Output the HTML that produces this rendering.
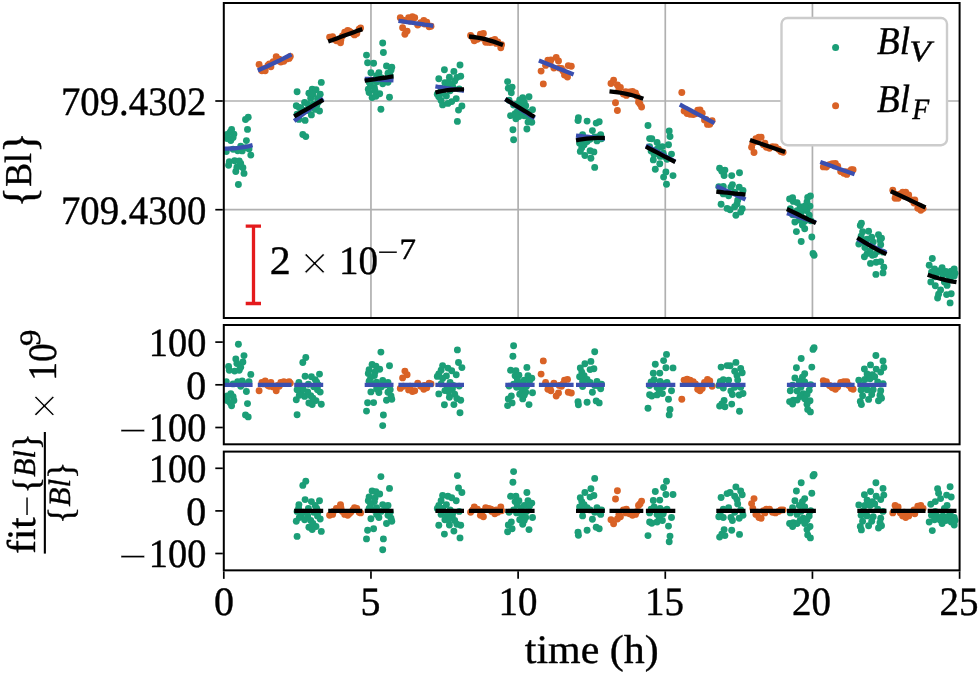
<!DOCTYPE html>
<html lang="en"><head><meta charset="utf-8"><title>Bl fit residuals</title>
<style>html,body{margin:0;padding:0;background:#fff}body{width:979px;height:674px;overflow:hidden}svg{display:block;text-rendering:geometricPrecision}text{font-family:"Liberation Serif","DejaVu Serif",serif;fill:#000}.i{font-style:italic}</style></head><body>
<svg width="979" height="674" viewBox="0 0 979 674">
<rect width="979" height="674" fill="#fff"/>
<defs><clipPath id="ct"><rect x="223.8" y="3.0" width="735.8" height="315.0"/></clipPath><clipPath id="cm"><rect x="223.8" y="325.0" width="735.8" height="119.30000000000001"/></clipPath><clipPath id="cb"><rect x="223.8" y="451.6" width="735.8" height="118.75"/></clipPath></defs>
<g stroke="#b0b0b0" stroke-width="1.7" fill="none">
<line x1="370.96" y1="3.0" x2="370.96" y2="318.0"/>
<line x1="518.12" y1="3.0" x2="518.12" y2="318.0"/>
<line x1="665.28" y1="3.0" x2="665.28" y2="318.0"/>
<line x1="812.44" y1="3.0" x2="812.44" y2="318.0"/>
<line x1="223.8" y1="101.0" x2="959.6" y2="101.0"/>
<line x1="223.8" y1="209.7" x2="959.6" y2="209.7"/>
</g>
<g clip-path="url(#ct)">
<g fill="#1b9e77">
<circle cx="238.4" cy="184.5" r="3.45"/>
<circle cx="244.0" cy="173.4" r="3.45"/>
<circle cx="235.8" cy="171.5" r="3.45"/>
<circle cx="242.9" cy="167.8" r="3.45"/>
<circle cx="236.9" cy="167.3" r="3.45"/>
<circle cx="228.6" cy="165.2" r="3.45"/>
<circle cx="240.7" cy="163.4" r="3.45"/>
<circle cx="229.3" cy="161.7" r="3.45"/>
<circle cx="234.6" cy="160.7" r="3.45"/>
<circle cx="239.2" cy="160.9" r="3.45"/>
<circle cx="250.8" cy="155.1" r="3.45"/>
<circle cx="226.3" cy="151.6" r="3.45"/>
<circle cx="237.7" cy="150.8" r="3.45"/>
<circle cx="242.2" cy="150.9" r="3.45"/>
<circle cx="249.0" cy="148.9" r="3.45"/>
<circle cx="240.7" cy="146.3" r="3.45"/>
<circle cx="246.4" cy="140.6" r="3.45"/>
<circle cx="230.8" cy="140.5" r="3.45"/>
<circle cx="227.1" cy="138.6" r="3.45"/>
<circle cx="233.1" cy="137.6" r="3.45"/>
<circle cx="227.1" cy="134.5" r="3.45"/>
<circle cx="233.9" cy="134.1" r="3.45"/>
<circle cx="230.1" cy="132.3" r="3.45"/>
<circle cx="231.6" cy="129.5" r="3.45"/>
<circle cx="247.5" cy="129.4" r="3.45"/>
<circle cx="245.5" cy="119.5" r="3.45"/>
<circle cx="248.2" cy="117.2" r="3.45"/>
<circle cx="233.1" cy="149.2" r="3.45"/>
<circle cx="245.2" cy="147.6" r="3.45"/>
<circle cx="305.8" cy="136.6" r="3.45"/>
<circle cx="302.8" cy="134.5" r="3.45"/>
<circle cx="297.1" cy="91.7" r="3.45"/>
<circle cx="321.3" cy="82.4" r="3.45"/>
<circle cx="296.3" cy="105.8" r="3.45"/>
<circle cx="305.1" cy="120.4" r="3.45"/>
<circle cx="319.5" cy="111.0" r="3.45"/>
<circle cx="311.4" cy="114.9" r="3.45"/>
<circle cx="298.9" cy="119.4" r="3.45"/>
<circle cx="315.2" cy="109.4" r="3.45"/>
<circle cx="298.6" cy="116.4" r="3.45"/>
<circle cx="308.4" cy="110.5" r="3.45"/>
<circle cx="300.9" cy="108.0" r="3.45"/>
<circle cx="304.6" cy="102.4" r="3.45"/>
<circle cx="310.7" cy="98.3" r="3.45"/>
<circle cx="320.2" cy="94.2" r="3.45"/>
<circle cx="317.5" cy="98.5" r="3.45"/>
<circle cx="308.9" cy="93.2" r="3.45"/>
<circle cx="312.2" cy="89.2" r="3.45"/>
<circle cx="316.0" cy="89.8" r="3.45"/>
<circle cx="313.7" cy="104.1" r="3.45"/>
<circle cx="303.1" cy="110.1" r="3.45"/>
<circle cx="297.1" cy="114.3" r="3.45"/>
<circle cx="318.2" cy="102.2" r="3.45"/>
<circle cx="307.7" cy="104.1" r="3.45"/>
<circle cx="312.9" cy="94.3" r="3.45"/>
<circle cx="299.3" cy="107.5" r="3.45"/>
<circle cx="316.7" cy="105.8" r="3.45"/>
<circle cx="380.9" cy="109.3" r="3.45"/>
<circle cx="389.5" cy="97.3" r="3.45"/>
<circle cx="372.1" cy="97.6" r="3.45"/>
<circle cx="375.9" cy="96.3" r="3.45"/>
<circle cx="379.7" cy="93.7" r="3.45"/>
<circle cx="369.1" cy="92.6" r="3.45"/>
<circle cx="375.1" cy="91.0" r="3.45"/>
<circle cx="368.3" cy="89.3" r="3.45"/>
<circle cx="374.4" cy="87.7" r="3.45"/>
<circle cx="370.6" cy="85.5" r="3.45"/>
<circle cx="382.7" cy="83.7" r="3.45"/>
<circle cx="388.0" cy="82.2" r="3.45"/>
<circle cx="376.6" cy="81.9" r="3.45"/>
<circle cx="385.7" cy="79.8" r="3.45"/>
<circle cx="373.6" cy="80.3" r="3.45"/>
<circle cx="370.9" cy="72.7" r="3.45"/>
<circle cx="378.9" cy="72.6" r="3.45"/>
<circle cx="376.6" cy="75.7" r="3.45"/>
<circle cx="388.0" cy="73.3" r="3.45"/>
<circle cx="391.0" cy="70.2" r="3.45"/>
<circle cx="391.8" cy="67.3" r="3.45"/>
<circle cx="386.5" cy="66.0" r="3.45"/>
<circle cx="373.6" cy="63.2" r="3.45"/>
<circle cx="367.6" cy="62.7" r="3.45"/>
<circle cx="366.5" cy="55.1" r="3.45"/>
<circle cx="383.4" cy="52.5" r="3.45"/>
<circle cx="382.7" cy="43.0" r="3.45"/>
<circle cx="390.2" cy="75.7" r="3.45"/>
<circle cx="369.1" cy="82.3" r="3.45"/>
<circle cx="381.2" cy="77.8" r="3.45"/>
<circle cx="457.4" cy="121.4" r="3.45"/>
<circle cx="458.5" cy="110.1" r="3.45"/>
<circle cx="461.9" cy="106.0" r="3.45"/>
<circle cx="442.6" cy="104.9" r="3.45"/>
<circle cx="447.9" cy="103.4" r="3.45"/>
<circle cx="451.7" cy="101.6" r="3.45"/>
<circle cx="456.2" cy="98.6" r="3.45"/>
<circle cx="441.1" cy="100.4" r="3.45"/>
<circle cx="446.4" cy="96.1" r="3.45"/>
<circle cx="438.8" cy="96.7" r="3.45"/>
<circle cx="437.3" cy="94.3" r="3.45"/>
<circle cx="442.6" cy="93.3" r="3.45"/>
<circle cx="450.1" cy="90.8" r="3.45"/>
<circle cx="441.1" cy="88.1" r="3.45"/>
<circle cx="447.1" cy="86.4" r="3.45"/>
<circle cx="452.4" cy="85.2" r="3.45"/>
<circle cx="444.9" cy="82.6" r="3.45"/>
<circle cx="454.7" cy="80.9" r="3.45"/>
<circle cx="438.8" cy="78.7" r="3.45"/>
<circle cx="449.4" cy="77.3" r="3.45"/>
<circle cx="456.9" cy="77.4" r="3.45"/>
<circle cx="460.7" cy="76.3" r="3.45"/>
<circle cx="453.9" cy="71.4" r="3.45"/>
<circle cx="444.4" cy="69.7" r="3.45"/>
<circle cx="460.0" cy="65.0" r="3.45"/>
<circle cx="453.2" cy="88.5" r="3.45"/>
<circle cx="459.2" cy="88.9" r="3.45"/>
<circle cx="448.6" cy="82.1" r="3.45"/>
<circle cx="513.6" cy="139.7" r="3.45"/>
<circle cx="512.9" cy="129.7" r="3.45"/>
<circle cx="526.9" cy="129.0" r="3.45"/>
<circle cx="510.6" cy="115.6" r="3.45"/>
<circle cx="515.9" cy="118.8" r="3.45"/>
<circle cx="515.1" cy="113.6" r="3.45"/>
<circle cx="518.9" cy="116.6" r="3.45"/>
<circle cx="528.0" cy="122.1" r="3.45"/>
<circle cx="531.8" cy="122.3" r="3.45"/>
<circle cx="517.4" cy="111.5" r="3.45"/>
<circle cx="524.2" cy="115.7" r="3.45"/>
<circle cx="529.5" cy="118.2" r="3.45"/>
<circle cx="521.2" cy="111.1" r="3.45"/>
<circle cx="509.1" cy="100.3" r="3.45"/>
<circle cx="516.6" cy="104.3" r="3.45"/>
<circle cx="521.9" cy="105.4" r="3.45"/>
<circle cx="525.7" cy="105.7" r="3.45"/>
<circle cx="532.5" cy="109.8" r="3.45"/>
<circle cx="519.7" cy="99.9" r="3.45"/>
<circle cx="511.3" cy="92.8" r="3.45"/>
<circle cx="508.3" cy="88.3" r="3.45"/>
<circle cx="522.7" cy="97.7" r="3.45"/>
<circle cx="512.1" cy="87.1" r="3.45"/>
<circle cx="507.6" cy="81.6" r="3.45"/>
<circle cx="529.0" cy="96.7" r="3.45"/>
<circle cx="526.5" cy="111.6" r="3.45"/>
<circle cx="513.6" cy="105.1" r="3.45"/>
<circle cx="524.2" cy="102.0" r="3.45"/>
<circle cx="594.7" cy="167.4" r="3.45"/>
<circle cx="590.9" cy="158.3" r="3.45"/>
<circle cx="584.9" cy="155.5" r="3.45"/>
<circle cx="593.9" cy="151.9" r="3.45"/>
<circle cx="590.1" cy="150.8" r="3.45"/>
<circle cx="580.3" cy="151.4" r="3.45"/>
<circle cx="581.8" cy="147.7" r="3.45"/>
<circle cx="584.1" cy="144.7" r="3.45"/>
<circle cx="579.6" cy="143.3" r="3.45"/>
<circle cx="587.1" cy="141.6" r="3.45"/>
<circle cx="597.0" cy="140.9" r="3.45"/>
<circle cx="601.5" cy="138.7" r="3.45"/>
<circle cx="594.7" cy="136.9" r="3.45"/>
<circle cx="600.7" cy="134.7" r="3.45"/>
<circle cx="582.6" cy="134.6" r="3.45"/>
<circle cx="592.4" cy="130.6" r="3.45"/>
<circle cx="596.2" cy="123.1" r="3.45"/>
<circle cx="599.2" cy="121.7" r="3.45"/>
<circle cx="587.1" cy="121.1" r="3.45"/>
<circle cx="578.0" cy="120.6" r="3.45"/>
<circle cx="578.4" cy="117.8" r="3.45"/>
<circle cx="590.1" cy="139.2" r="3.45"/>
<circle cx="582.6" cy="139.4" r="3.45"/>
<circle cx="598.5" cy="136.7" r="3.45"/>
<circle cx="666.5" cy="184.3" r="3.45"/>
<circle cx="663.6" cy="177.1" r="3.45"/>
<circle cx="655.3" cy="169.2" r="3.45"/>
<circle cx="665.9" cy="171.9" r="3.45"/>
<circle cx="673.0" cy="175.6" r="3.45"/>
<circle cx="653.3" cy="159.9" r="3.45"/>
<circle cx="659.8" cy="163.7" r="3.45"/>
<circle cx="654.1" cy="154.6" r="3.45"/>
<circle cx="660.1" cy="156.4" r="3.45"/>
<circle cx="667.0" cy="159.2" r="3.45"/>
<circle cx="649.6" cy="146.8" r="3.45"/>
<circle cx="657.1" cy="149.3" r="3.45"/>
<circle cx="663.2" cy="153.2" r="3.45"/>
<circle cx="671.5" cy="154.1" r="3.45"/>
<circle cx="659.4" cy="147.1" r="3.45"/>
<circle cx="662.4" cy="146.6" r="3.45"/>
<circle cx="657.1" cy="142.5" r="3.45"/>
<circle cx="649.6" cy="138.6" r="3.45"/>
<circle cx="651.8" cy="138.7" r="3.45"/>
<circle cx="668.5" cy="144.7" r="3.45"/>
<circle cx="648.0" cy="125.5" r="3.45"/>
<circle cx="670.0" cy="136.5" r="3.45"/>
<circle cx="669.2" cy="131.0" r="3.45"/>
<circle cx="651.1" cy="151.0" r="3.45"/>
<circle cx="663.9" cy="156.3" r="3.45"/>
<circle cx="735.9" cy="215.3" r="3.45"/>
<circle cx="740.7" cy="212.1" r="3.45"/>
<circle cx="730.1" cy="209.7" r="3.45"/>
<circle cx="727.1" cy="208.4" r="3.45"/>
<circle cx="742.2" cy="208.8" r="3.45"/>
<circle cx="721.1" cy="204.2" r="3.45"/>
<circle cx="734.7" cy="206.7" r="3.45"/>
<circle cx="737.0" cy="203.9" r="3.45"/>
<circle cx="737.7" cy="200.2" r="3.45"/>
<circle cx="728.6" cy="195.8" r="3.45"/>
<circle cx="723.3" cy="193.9" r="3.45"/>
<circle cx="718.8" cy="186.6" r="3.45"/>
<circle cx="723.3" cy="186.4" r="3.45"/>
<circle cx="730.9" cy="187.2" r="3.45"/>
<circle cx="732.4" cy="184.6" r="3.45"/>
<circle cx="739.2" cy="187.3" r="3.45"/>
<circle cx="743.0" cy="190.5" r="3.45"/>
<circle cx="734.7" cy="192.3" r="3.45"/>
<circle cx="724.1" cy="175.5" r="3.45"/>
<circle cx="731.7" cy="175.6" r="3.45"/>
<circle cx="739.5" cy="172.7" r="3.45"/>
<circle cx="724.9" cy="170.1" r="3.45"/>
<circle cx="719.6" cy="168.2" r="3.45"/>
<circle cx="721.8" cy="171.2" r="3.45"/>
<circle cx="740.7" cy="195.0" r="3.45"/>
<circle cx="720.3" cy="190.9" r="3.45"/>
<circle cx="813.0" cy="253.4" r="3.45"/>
<circle cx="814.1" cy="255.2" r="3.45"/>
<circle cx="801.2" cy="241.5" r="3.45"/>
<circle cx="796.4" cy="231.6" r="3.45"/>
<circle cx="811.8" cy="237.0" r="3.45"/>
<circle cx="804.7" cy="228.8" r="3.45"/>
<circle cx="794.9" cy="222.0" r="3.45"/>
<circle cx="802.4" cy="225.0" r="3.45"/>
<circle cx="799.4" cy="220.1" r="3.45"/>
<circle cx="792.6" cy="214.7" r="3.45"/>
<circle cx="804.7" cy="221.3" r="3.45"/>
<circle cx="790.3" cy="208.8" r="3.45"/>
<circle cx="797.1" cy="210.8" r="3.45"/>
<circle cx="809.2" cy="215.3" r="3.45"/>
<circle cx="803.2" cy="210.3" r="3.45"/>
<circle cx="800.1" cy="206.8" r="3.45"/>
<circle cx="807.0" cy="210.8" r="3.45"/>
<circle cx="789.6" cy="198.9" r="3.45"/>
<circle cx="793.3" cy="201.4" r="3.45"/>
<circle cx="797.1" cy="202.6" r="3.45"/>
<circle cx="792.6" cy="197.6" r="3.45"/>
<circle cx="810.0" cy="206.1" r="3.45"/>
<circle cx="807.0" cy="201.9" r="3.45"/>
<circle cx="807.7" cy="197.5" r="3.45"/>
<circle cx="810.4" cy="196.0" r="3.45"/>
<circle cx="804.7" cy="206.2" r="3.45"/>
<circle cx="800.9" cy="215.3" r="3.45"/>
<circle cx="810.7" cy="220.8" r="3.45"/>
<circle cx="875.9" cy="274.4" r="3.45"/>
<circle cx="883.0" cy="272.9" r="3.45"/>
<circle cx="870.5" cy="263.4" r="3.45"/>
<circle cx="864.4" cy="256.8" r="3.45"/>
<circle cx="883.8" cy="267.2" r="3.45"/>
<circle cx="876.2" cy="262.2" r="3.45"/>
<circle cx="880.7" cy="261.6" r="3.45"/>
<circle cx="867.1" cy="253.6" r="3.45"/>
<circle cx="872.4" cy="255.3" r="3.45"/>
<circle cx="858.8" cy="244.1" r="3.45"/>
<circle cx="864.9" cy="247.5" r="3.45"/>
<circle cx="870.1" cy="250.6" r="3.45"/>
<circle cx="877.7" cy="251.4" r="3.45"/>
<circle cx="861.1" cy="236.2" r="3.45"/>
<circle cx="867.1" cy="239.3" r="3.45"/>
<circle cx="873.2" cy="242.1" r="3.45"/>
<circle cx="880.7" cy="244.8" r="3.45"/>
<circle cx="862.6" cy="231.7" r="3.45"/>
<circle cx="871.7" cy="237.1" r="3.45"/>
<circle cx="880.0" cy="240.3" r="3.45"/>
<circle cx="868.6" cy="231.3" r="3.45"/>
<circle cx="860.3" cy="225.5" r="3.45"/>
<circle cx="881.5" cy="238.3" r="3.45"/>
<circle cx="878.5" cy="234.7" r="3.45"/>
<circle cx="861.4" cy="223.2" r="3.45"/>
<circle cx="874.7" cy="254.5" r="3.45"/>
<circle cx="863.3" cy="241.8" r="3.45"/>
<circle cx="883.0" cy="252.1" r="3.45"/>
<circle cx="950.1" cy="302.9" r="3.45"/>
<circle cx="937.6" cy="298.0" r="3.45"/>
<circle cx="938.6" cy="294.2" r="3.45"/>
<circle cx="946.6" cy="294.6" r="3.45"/>
<circle cx="951.2" cy="293.8" r="3.45"/>
<circle cx="940.6" cy="290.0" r="3.45"/>
<circle cx="935.3" cy="285.7" r="3.45"/>
<circle cx="930.8" cy="281.9" r="3.45"/>
<circle cx="947.1" cy="285.4" r="3.45"/>
<circle cx="944.4" cy="282.0" r="3.45"/>
<circle cx="931.5" cy="272.1" r="3.45"/>
<circle cx="936.8" cy="273.2" r="3.45"/>
<circle cx="942.9" cy="274.8" r="3.45"/>
<circle cx="948.9" cy="276.2" r="3.45"/>
<circle cx="954.2" cy="275.9" r="3.45"/>
<circle cx="929.2" cy="265.2" r="3.45"/>
<circle cx="934.5" cy="269.0" r="3.45"/>
<circle cx="939.8" cy="270.6" r="3.45"/>
<circle cx="945.9" cy="271.5" r="3.45"/>
<circle cx="951.2" cy="271.2" r="3.45"/>
<circle cx="942.1" cy="267.8" r="3.45"/>
<circle cx="954.2" cy="269.0" r="3.45"/>
<circle cx="932.3" cy="258.5" r="3.45"/>
<circle cx="935.3" cy="276.8" r="3.45"/>
<circle cx="950.4" cy="280.0" r="3.45"/>
<circle cx="955.0" cy="273.3" r="3.45"/>
</g>
<g fill="#d96226">
<circle cx="259.1" cy="64.5" r="3.45"/>
<circle cx="261.9" cy="70.8" r="3.45"/>
<circle cx="265.2" cy="70.7" r="3.45"/>
<circle cx="267.9" cy="65.4" r="3.45"/>
<circle cx="270.9" cy="66.7" r="3.45"/>
<circle cx="273.2" cy="61.6" r="3.45"/>
<circle cx="276.2" cy="56.7" r="3.45"/>
<circle cx="277.7" cy="60.7" r="3.45"/>
<circle cx="280.8" cy="62.0" r="3.45"/>
<circle cx="283.8" cy="61.2" r="3.45"/>
<circle cx="286.8" cy="58.9" r="3.45"/>
<circle cx="289.1" cy="58.4" r="3.45"/>
<circle cx="290.3" cy="56.4" r="3.45"/>
<circle cx="269.4" cy="64.0" r="3.45"/>
<circle cx="263.4" cy="68.8" r="3.45"/>
<circle cx="279.2" cy="59.3" r="3.45"/>
<circle cx="329.6" cy="37.1" r="3.45"/>
<circle cx="332.6" cy="36.7" r="3.45"/>
<circle cx="336.4" cy="40.8" r="3.45"/>
<circle cx="340.5" cy="42.7" r="3.45"/>
<circle cx="340.9" cy="39.8" r="3.45"/>
<circle cx="344.7" cy="32.3" r="3.45"/>
<circle cx="347.7" cy="30.5" r="3.45"/>
<circle cx="350.8" cy="32.1" r="3.45"/>
<circle cx="354.5" cy="34.9" r="3.45"/>
<circle cx="356.8" cy="33.4" r="3.45"/>
<circle cx="359.1" cy="29.1" r="3.45"/>
<circle cx="360.6" cy="27.9" r="3.45"/>
<circle cx="333.4" cy="39.1" r="3.45"/>
<circle cx="353.0" cy="33.4" r="3.45"/>
<circle cx="342.4" cy="35.9" r="3.45"/>
<circle cx="349.2" cy="31.3" r="3.45"/>
<circle cx="404.9" cy="34.2" r="3.45"/>
<circle cx="407.1" cy="31.1" r="3.45"/>
<circle cx="402.6" cy="27.7" r="3.45"/>
<circle cx="400.3" cy="17.8" r="3.45"/>
<circle cx="403.3" cy="20.3" r="3.45"/>
<circle cx="408.6" cy="17.6" r="3.45"/>
<circle cx="412.4" cy="16.8" r="3.45"/>
<circle cx="414.7" cy="17.8" r="3.45"/>
<circle cx="417.7" cy="25.1" r="3.45"/>
<circle cx="420.7" cy="22.8" r="3.45"/>
<circle cx="423.8" cy="20.4" r="3.45"/>
<circle cx="426.8" cy="22.2" r="3.45"/>
<circle cx="429.1" cy="26.7" r="3.45"/>
<circle cx="431.0" cy="26.3" r="3.45"/>
<circle cx="410.1" cy="21.2" r="3.45"/>
<circle cx="424.5" cy="24.0" r="3.45"/>
<circle cx="470.6" cy="35.5" r="3.45"/>
<circle cx="474.3" cy="40.7" r="3.45"/>
<circle cx="477.4" cy="39.2" r="3.45"/>
<circle cx="480.4" cy="34.2" r="3.45"/>
<circle cx="483.4" cy="33.5" r="3.45"/>
<circle cx="485.7" cy="42.3" r="3.45"/>
<circle cx="488.7" cy="42.4" r="3.45"/>
<circle cx="491.7" cy="40.5" r="3.45"/>
<circle cx="494.8" cy="39.5" r="3.45"/>
<circle cx="497.8" cy="41.9" r="3.45"/>
<circle cx="500.8" cy="47.8" r="3.45"/>
<circle cx="501.6" cy="44.7" r="3.45"/>
<circle cx="481.9" cy="38.0" r="3.45"/>
<circle cx="472.8" cy="37.8" r="3.45"/>
<circle cx="496.3" cy="43.4" r="3.45"/>
<circle cx="491.0" cy="42.4" r="3.45"/>
<circle cx="543.3" cy="83.9" r="3.45"/>
<circle cx="541.1" cy="71.1" r="3.45"/>
<circle cx="545.6" cy="65.4" r="3.45"/>
<circle cx="547.9" cy="60.1" r="3.45"/>
<circle cx="550.9" cy="60.0" r="3.45"/>
<circle cx="553.9" cy="68.1" r="3.45"/>
<circle cx="556.2" cy="57.4" r="3.45"/>
<circle cx="558.5" cy="61.0" r="3.45"/>
<circle cx="561.5" cy="68.4" r="3.45"/>
<circle cx="564.5" cy="75.1" r="3.45"/>
<circle cx="567.5" cy="77.0" r="3.45"/>
<circle cx="568.3" cy="65.6" r="3.45"/>
<circle cx="571.3" cy="66.2" r="3.45"/>
<circle cx="550.1" cy="63.8" r="3.45"/>
<circle cx="563.0" cy="71.0" r="3.45"/>
<circle cx="559.2" cy="68.1" r="3.45"/>
<circle cx="617.4" cy="110.5" r="3.45"/>
<circle cx="615.5" cy="102.7" r="3.45"/>
<circle cx="611.0" cy="83.5" r="3.45"/>
<circle cx="613.6" cy="80.1" r="3.45"/>
<circle cx="617.4" cy="84.9" r="3.45"/>
<circle cx="620.4" cy="87.4" r="3.45"/>
<circle cx="623.4" cy="94.1" r="3.45"/>
<circle cx="626.4" cy="95.4" r="3.45"/>
<circle cx="625.7" cy="91.8" r="3.45"/>
<circle cx="629.5" cy="92.0" r="3.45"/>
<circle cx="632.5" cy="91.4" r="3.45"/>
<circle cx="635.5" cy="93.0" r="3.45"/>
<circle cx="638.5" cy="102.1" r="3.45"/>
<circle cx="641.6" cy="107.0" r="3.45"/>
<circle cx="640.0" cy="104.0" r="3.45"/>
<circle cx="637.0" cy="96.2" r="3.45"/>
<circle cx="618.9" cy="89.2" r="3.45"/>
<circle cx="681.8" cy="92.5" r="3.45"/>
<circle cx="684.1" cy="111.0" r="3.45"/>
<circle cx="687.1" cy="113.6" r="3.45"/>
<circle cx="690.1" cy="114.3" r="3.45"/>
<circle cx="693.2" cy="114.6" r="3.45"/>
<circle cx="695.4" cy="113.7" r="3.45"/>
<circle cx="697.7" cy="110.2" r="3.45"/>
<circle cx="700.0" cy="110.0" r="3.45"/>
<circle cx="702.2" cy="113.3" r="3.45"/>
<circle cx="704.5" cy="120.0" r="3.45"/>
<circle cx="707.5" cy="124.4" r="3.45"/>
<circle cx="709.8" cy="124.2" r="3.45"/>
<circle cx="712.1" cy="120.7" r="3.45"/>
<circle cx="685.6" cy="109.8" r="3.45"/>
<circle cx="706.0" cy="119.4" r="3.45"/>
<circle cx="699.2" cy="113.0" r="3.45"/>
<circle cx="754.0" cy="152.5" r="3.45"/>
<circle cx="751.6" cy="147.2" r="3.45"/>
<circle cx="755.9" cy="138.8" r="3.45"/>
<circle cx="758.9" cy="137.1" r="3.45"/>
<circle cx="761.1" cy="137.2" r="3.45"/>
<circle cx="763.4" cy="144.8" r="3.45"/>
<circle cx="766.4" cy="147.2" r="3.45"/>
<circle cx="769.5" cy="148.3" r="3.45"/>
<circle cx="772.5" cy="146.6" r="3.45"/>
<circle cx="775.5" cy="146.9" r="3.45"/>
<circle cx="778.5" cy="149.3" r="3.45"/>
<circle cx="780.8" cy="151.5" r="3.45"/>
<circle cx="783.1" cy="152.2" r="3.45"/>
<circle cx="757.4" cy="141.4" r="3.45"/>
<circle cx="752.8" cy="143.2" r="3.45"/>
<circle cx="764.9" cy="143.3" r="3.45"/>
<circle cx="823.3" cy="166.9" r="3.45"/>
<circle cx="826.4" cy="167.0" r="3.45"/>
<circle cx="829.4" cy="164.7" r="3.45"/>
<circle cx="832.4" cy="163.7" r="3.45"/>
<circle cx="835.4" cy="163.5" r="3.45"/>
<circle cx="837.7" cy="166.3" r="3.45"/>
<circle cx="840.7" cy="171.5" r="3.45"/>
<circle cx="843.8" cy="173.3" r="3.45"/>
<circle cx="846.8" cy="174.4" r="3.45"/>
<circle cx="849.0" cy="171.7" r="3.45"/>
<circle cx="851.3" cy="169.8" r="3.45"/>
<circle cx="853.1" cy="169.8" r="3.45"/>
<circle cx="824.9" cy="165.1" r="3.45"/>
<circle cx="834.7" cy="165.9" r="3.45"/>
<circle cx="845.3" cy="171.8" r="3.45"/>
<circle cx="830.9" cy="164.6" r="3.45"/>
<circle cx="895.1" cy="198.2" r="3.45"/>
<circle cx="898.1" cy="198.3" r="3.45"/>
<circle cx="892.8" cy="190.3" r="3.45"/>
<circle cx="900.4" cy="193.9" r="3.45"/>
<circle cx="902.7" cy="192.2" r="3.45"/>
<circle cx="905.7" cy="192.3" r="3.45"/>
<circle cx="908.7" cy="195.0" r="3.45"/>
<circle cx="911.7" cy="199.9" r="3.45"/>
<circle cx="914.8" cy="199.9" r="3.45"/>
<circle cx="917.8" cy="208.2" r="3.45"/>
<circle cx="920.8" cy="210.3" r="3.45"/>
<circle cx="923.1" cy="208.6" r="3.45"/>
<circle cx="919.3" cy="206.2" r="3.45"/>
<circle cx="904.2" cy="196.3" r="3.45"/>
<circle cx="895.9" cy="194.5" r="3.45"/>
<circle cx="914.0" cy="203.0" r="3.45"/>
</g>
<g fill="none" stroke-width="4.3">
<path stroke="#3a4fb0" d="M223.7 148.7L227.3 148.7L230.9 148.5L234.5 148.3L238.1 147.9L241.8 147.4L245.4 146.8L249.0 146.1L252.6 145.2"/>
<path stroke="#3a4fb0" d="M257.8 70.4L262.0 68.6L266.2 66.7L270.4 64.8L274.6 62.8L278.9 60.8L283.1 58.7L287.3 56.5L291.5 54.3"/>
<path stroke="#3a4fb0" d="M294.2 121.0L297.8 118.2L301.4 115.4L305.1 112.6L308.7 109.8L312.3 106.9L315.9 104.1L319.6 101.3L323.2 98.5"/>
<path stroke="#3a4fb0" d="M364.7 78.8L368.3 79.0L371.9 79.2L375.5 79.4L379.1 79.6L382.7 79.8L386.3 80.0L389.9 80.2L393.5 80.4"/>
<path stroke="#3a4fb0" d="M398.4 20.8L402.8 21.4L407.1 22.1L411.5 22.7L415.9 23.3L420.3 23.9L424.6 24.6L429.0 25.2L433.4 25.8"/>
<path stroke="#3a4fb0" d="M435.4 86.4L439.0 87.0L442.5 87.5L446.1 88.1L449.7 88.6L453.3 89.1L456.9 89.7L460.4 90.2L464.0 90.8"/>
<path stroke="#3a4fb0" d="M505.3 99.0L509.0 101.4L512.6 103.8L516.3 106.2L520.0 108.7L523.6 111.1L527.3 113.5L530.9 115.9L534.6 118.3"/>
<path stroke="#3a4fb0" d="M538.9 60.5L543.2 62.2L547.6 64.0L551.9 65.8L556.2 67.5L560.6 69.2L564.9 71.0L569.3 72.8L573.6 74.5"/>
<path stroke="#3a4fb0" d="M576.0 135.6L579.6 136.0L583.2 136.4L586.8 136.7L590.4 137.1L594.0 137.5L597.6 137.8L601.2 138.2L604.8 138.6"/>
<path stroke="#3a4fb0" d="M645.9 145.5L649.6 147.5L653.2 149.5L656.9 151.5L660.6 153.5L664.3 155.6L667.9 157.6L671.6 159.6L675.3 161.6"/>
<path stroke="#3a4fb0" d="M679.8 104.5L684.1 106.8L688.5 109.2L692.8 111.5L697.1 113.8L701.5 116.2L705.8 118.5L710.2 120.9L714.5 123.2"/>
<path stroke="#3a4fb0" d="M716.3 186.0L719.9 187.7L723.6 189.4L727.2 191.1L730.9 192.8L734.5 194.4L738.2 196.1L741.9 197.8L745.5 199.5"/>
<path stroke="#3a4fb0" d="M786.9 213.2L790.5 214.3L794.1 215.5L797.8 216.6L801.4 217.8L805.0 218.9L808.6 220.0L812.3 221.2L815.9 222.3"/>
<path stroke="#3a4fb0" d="M820.3 162.0L824.6 163.5L828.9 165.1L833.2 166.6L837.5 168.2L841.7 169.7L846.0 171.2L850.3 172.8L854.6 174.3"/>
<path stroke="#3a4fb0" d="M857.3 239.2L860.9 240.9L864.6 242.6L868.2 244.3L871.8 246.0L875.5 247.7L879.1 249.4L882.8 251.1L886.4 252.8"/>
<path stroke="#000" d="M294.2 116.4L297.8 114.3L301.4 112.2L305.1 110.2L308.7 108.1L312.3 106.0L315.9 103.9L319.6 101.9L323.2 99.8"/>
<path stroke="#000" d="M328.2 41.5L332.5 40.0L336.7 38.4L341.0 36.8L345.2 35.3L349.5 33.8L353.8 32.2L358.0 30.6L362.3 29.1"/>
<path stroke="#000" d="M364.7 80.7L368.3 80.2L371.9 79.6L375.5 79.1L379.1 78.5L382.7 78.0L386.3 77.5L389.9 76.9L393.5 76.4"/>
<path stroke="#000" d="M435.4 92.5L439.0 91.7L442.5 91.0L446.1 90.4L449.7 90.0L453.3 89.7L456.9 89.5L460.4 89.4L464.0 89.4"/>
<path stroke="#000" d="M469.0 36.5L473.2 37.0L477.5 37.6L481.8 38.4L486.0 39.4L490.2 40.6L494.5 41.9L498.8 43.4L503.0 45.1"/>
<path stroke="#000" d="M505.3 99.2L509.0 101.4L512.6 103.6L516.3 105.9L520.0 108.1L523.6 110.3L527.3 112.5L530.9 114.8L534.6 117.0"/>
<path stroke="#000" d="M576.0 140.3L579.6 139.7L583.2 139.1L586.8 138.7L590.4 138.3L594.0 138.1L597.6 137.9L601.2 137.9L604.8 137.9"/>
<path stroke="#000" d="M609.5 91.4L613.7 91.8L618.0 92.3L622.2 93.0L626.4 93.8L630.6 94.8L634.8 96.0L639.1 97.3L643.3 98.8"/>
<path stroke="#000" d="M645.9 146.7L649.6 148.6L653.2 150.5L656.9 152.4L660.6 154.3L664.3 156.3L667.9 158.2L671.6 160.1L675.3 162.0"/>
<path stroke="#000" d="M716.3 191.6L719.9 192.0L723.6 192.4L727.2 192.7L730.9 193.1L734.5 193.5L738.2 193.8L741.9 194.2L745.5 194.6"/>
<path stroke="#000" d="M750.0 140.0L754.4 141.5L758.8 143.0L763.1 144.5L767.5 146.0L771.9 147.5L776.2 149.0L780.6 150.5L785.0 152.0"/>
<path stroke="#000" d="M786.9 209.0L790.5 210.8L794.1 212.5L797.8 214.3L801.4 216.1L805.0 217.8L808.6 219.6L812.3 221.3L815.9 223.1"/>
<path stroke="#000" d="M857.3 237.7L860.9 240.0L864.6 242.3L868.2 244.5L871.8 246.6L875.5 248.6L879.1 250.6L882.8 252.4L886.4 254.2"/>
<path stroke="#000" d="M890.8 191.2L895.1 193.2L899.5 195.3L903.8 197.3L908.1 199.3L912.5 201.4L916.8 203.4L921.2 205.5L925.5 207.5"/>
<path stroke="#000" d="M927.7 274.7L931.3 276.0L934.9 277.1L938.5 278.2L942.1 279.2L945.7 280.1L949.3 280.9L952.9 281.6L956.5 282.2"/>
</g>
<g stroke="#e41a1c" stroke-width="3.3" fill="none"><path d="M253.5 226.1V303.5M245.7 226.1H261M245.7 303.5H261"/></g>
</g>
<g clip-path="url(#cm)">
<g fill="#1b9e77">
<circle cx="238.4" cy="344.3" r="3.45"/>
<circle cx="244.0" cy="355.6" r="3.45"/>
<circle cx="235.8" cy="358.9" r="3.45"/>
<circle cx="242.9" cy="362.0" r="3.45"/>
<circle cx="236.9" cy="363.5" r="3.45"/>
<circle cx="228.6" cy="366.5" r="3.45"/>
<circle cx="240.7" cy="367.3" r="3.45"/>
<circle cx="229.3" cy="370.3" r="3.45"/>
<circle cx="234.6" cy="371.1" r="3.45"/>
<circle cx="239.2" cy="370.3" r="3.45"/>
<circle cx="250.8" cy="374.4" r="3.45"/>
<circle cx="226.3" cy="381.6" r="3.45"/>
<circle cx="237.7" cy="381.6" r="3.45"/>
<circle cx="242.2" cy="380.9" r="3.45"/>
<circle cx="249.0" cy="381.6" r="3.45"/>
<circle cx="240.7" cy="386.2" r="3.45"/>
<circle cx="246.4" cy="391.5" r="3.45"/>
<circle cx="230.8" cy="393.7" r="3.45"/>
<circle cx="227.1" cy="396.0" r="3.45"/>
<circle cx="233.1" cy="396.8" r="3.45"/>
<circle cx="227.1" cy="400.5" r="3.45"/>
<circle cx="233.9" cy="400.5" r="3.45"/>
<circle cx="230.1" cy="402.8" r="3.45"/>
<circle cx="231.6" cy="405.8" r="3.45"/>
<circle cx="247.5" cy="403.6" r="3.45"/>
<circle cx="245.5" cy="414.9" r="3.45"/>
<circle cx="248.2" cy="416.9" r="3.45"/>
<circle cx="233.1" cy="383.9" r="3.45"/>
<circle cx="245.2" cy="383.9" r="3.45"/>
<circle cx="305.8" cy="357.5" r="3.45"/>
<circle cx="302.8" cy="362.5" r="3.45"/>
<circle cx="297.1" cy="414.7" r="3.45"/>
<circle cx="321.3" cy="404.3" r="3.45"/>
<circle cx="296.3" cy="399.8" r="3.45"/>
<circle cx="305.1" cy="376.2" r="3.45"/>
<circle cx="319.5" cy="374.1" r="3.45"/>
<circle cx="311.4" cy="376.7" r="3.45"/>
<circle cx="298.9" cy="382.5" r="3.45"/>
<circle cx="315.2" cy="379.6" r="3.45"/>
<circle cx="298.6" cy="386.1" r="3.45"/>
<circle cx="308.4" cy="384.2" r="3.45"/>
<circle cx="300.9" cy="393.4" r="3.45"/>
<circle cx="304.6" cy="396.4" r="3.45"/>
<circle cx="310.7" cy="395.8" r="3.45"/>
<circle cx="320.2" cy="392.1" r="3.45"/>
<circle cx="317.5" cy="389.7" r="3.45"/>
<circle cx="308.9" cy="403.0" r="3.45"/>
<circle cx="312.2" cy="404.5" r="3.45"/>
<circle cx="316.0" cy="400.6" r="3.45"/>
<circle cx="313.7" cy="386.8" r="3.45"/>
<circle cx="303.1" cy="389.2" r="3.45"/>
<circle cx="297.1" cy="389.8" r="3.45"/>
<circle cx="318.2" cy="385.0" r="3.45"/>
<circle cx="307.7" cy="391.9" r="3.45"/>
<circle cx="312.9" cy="398.3" r="3.45"/>
<circle cx="299.3" cy="395.3" r="3.45"/>
<circle cx="316.7" cy="382.3" r="3.45"/>
<circle cx="380.9" cy="352.1" r="3.45"/>
<circle cx="389.5" cy="365.8" r="3.45"/>
<circle cx="372.1" cy="364.5" r="3.45"/>
<circle cx="375.9" cy="366.1" r="3.45"/>
<circle cx="379.7" cy="369.2" r="3.45"/>
<circle cx="369.1" cy="369.8" r="3.45"/>
<circle cx="375.1" cy="372.0" r="3.45"/>
<circle cx="368.3" cy="373.4" r="3.45"/>
<circle cx="374.4" cy="375.6" r="3.45"/>
<circle cx="370.6" cy="377.7" r="3.45"/>
<circle cx="382.7" cy="380.5" r="3.45"/>
<circle cx="388.0" cy="382.4" r="3.45"/>
<circle cx="376.6" cy="382.1" r="3.45"/>
<circle cx="385.7" cy="384.9" r="3.45"/>
<circle cx="373.6" cy="383.7" r="3.45"/>
<circle cx="370.9" cy="391.9" r="3.45"/>
<circle cx="378.9" cy="392.5" r="3.45"/>
<circle cx="376.6" cy="388.9" r="3.45"/>
<circle cx="388.0" cy="392.3" r="3.45"/>
<circle cx="391.0" cy="396.0" r="3.45"/>
<circle cx="391.8" cy="399.2" r="3.45"/>
<circle cx="386.5" cy="400.3" r="3.45"/>
<circle cx="373.6" cy="402.6" r="3.45"/>
<circle cx="367.6" cy="402.8" r="3.45"/>
<circle cx="366.5" cy="411.1" r="3.45"/>
<circle cx="383.4" cy="415.0" r="3.45"/>
<circle cx="382.7" cy="425.6" r="3.45"/>
<circle cx="390.2" cy="389.8" r="3.45"/>
<circle cx="369.1" cy="381.2" r="3.45"/>
<circle cx="381.2" cy="387.0" r="3.45"/>
<circle cx="457.4" cy="349.9" r="3.45"/>
<circle cx="458.5" cy="362.5" r="3.45"/>
<circle cx="461.9" cy="367.6" r="3.45"/>
<circle cx="442.6" cy="365.6" r="3.45"/>
<circle cx="447.9" cy="368.1" r="3.45"/>
<circle cx="451.7" cy="370.7" r="3.45"/>
<circle cx="456.2" cy="374.8" r="3.45"/>
<circle cx="441.1" cy="370.3" r="3.45"/>
<circle cx="446.4" cy="375.9" r="3.45"/>
<circle cx="438.8" cy="374.0" r="3.45"/>
<circle cx="437.3" cy="376.4" r="3.45"/>
<circle cx="442.6" cy="378.4" r="3.45"/>
<circle cx="450.1" cy="382.4" r="3.45"/>
<circle cx="441.1" cy="383.9" r="3.45"/>
<circle cx="447.1" cy="386.8" r="3.45"/>
<circle cx="452.4" cy="389.1" r="3.45"/>
<circle cx="444.9" cy="390.6" r="3.45"/>
<circle cx="454.7" cy="394.2" r="3.45"/>
<circle cx="438.8" cy="393.9" r="3.45"/>
<circle cx="449.4" cy="397.3" r="3.45"/>
<circle cx="456.9" cy="398.5" r="3.45"/>
<circle cx="460.7" cy="400.3" r="3.45"/>
<circle cx="453.9" cy="404.6" r="3.45"/>
<circle cx="444.4" cy="404.8" r="3.45"/>
<circle cx="460.0" cy="412.7" r="3.45"/>
<circle cx="453.2" cy="385.5" r="3.45"/>
<circle cx="459.2" cy="386.1" r="3.45"/>
<circle cx="448.6" cy="391.8" r="3.45"/>
<circle cx="513.6" cy="345.8" r="3.45"/>
<circle cx="512.9" cy="356.3" r="3.45"/>
<circle cx="526.9" cy="367.4" r="3.45"/>
<circle cx="510.6" cy="370.3" r="3.45"/>
<circle cx="515.9" cy="370.6" r="3.45"/>
<circle cx="515.1" cy="375.8" r="3.45"/>
<circle cx="518.9" cy="375.3" r="3.45"/>
<circle cx="528.0" cy="375.8" r="3.45"/>
<circle cx="531.8" cy="378.3" r="3.45"/>
<circle cx="517.4" cy="379.7" r="3.45"/>
<circle cx="524.2" cy="380.1" r="3.45"/>
<circle cx="529.5" cy="381.2" r="3.45"/>
<circle cx="521.2" cy="383.0" r="3.45"/>
<circle cx="509.1" cy="386.1" r="3.45"/>
<circle cx="516.6" cy="387.3" r="3.45"/>
<circle cx="521.9" cy="389.8" r="3.45"/>
<circle cx="525.7" cy="392.3" r="3.45"/>
<circle cx="532.5" cy="392.7" r="3.45"/>
<circle cx="519.7" cy="394.2" r="3.45"/>
<circle cx="511.3" cy="396.0" r="3.45"/>
<circle cx="508.3" cy="398.9" r="3.45"/>
<circle cx="522.7" cy="398.9" r="3.45"/>
<circle cx="512.1" cy="402.9" r="3.45"/>
<circle cx="507.6" cy="405.6" r="3.45"/>
<circle cx="529.0" cy="404.6" r="3.45"/>
<circle cx="526.5" cy="386.3" r="3.45"/>
<circle cx="513.6" cy="384.1" r="3.45"/>
<circle cx="524.2" cy="395.2" r="3.45"/>
<circle cx="594.7" cy="351.8" r="3.45"/>
<circle cx="590.9" cy="361.4" r="3.45"/>
<circle cx="584.9" cy="363.8" r="3.45"/>
<circle cx="593.9" cy="368.8" r="3.45"/>
<circle cx="590.1" cy="369.6" r="3.45"/>
<circle cx="580.3" cy="367.9" r="3.45"/>
<circle cx="581.8" cy="372.1" r="3.45"/>
<circle cx="584.1" cy="375.7" r="3.45"/>
<circle cx="579.6" cy="376.7" r="3.45"/>
<circle cx="587.1" cy="379.5" r="3.45"/>
<circle cx="597.0" cy="381.4" r="3.45"/>
<circle cx="601.5" cy="384.3" r="3.45"/>
<circle cx="594.7" cy="385.6" r="3.45"/>
<circle cx="600.7" cy="388.7" r="3.45"/>
<circle cx="582.6" cy="386.6" r="3.45"/>
<circle cx="592.4" cy="392.3" r="3.45"/>
<circle cx="596.2" cy="400.9" r="3.45"/>
<circle cx="599.2" cy="402.9" r="3.45"/>
<circle cx="587.1" cy="402.2" r="3.45"/>
<circle cx="578.0" cy="401.7" r="3.45"/>
<circle cx="578.4" cy="404.8" r="3.45"/>
<circle cx="590.1" cy="382.4" r="3.45"/>
<circle cx="582.6" cy="381.4" r="3.45"/>
<circle cx="598.5" cy="386.1" r="3.45"/>
<circle cx="666.5" cy="354.4" r="3.45"/>
<circle cx="663.6" cy="360.6" r="3.45"/>
<circle cx="655.3" cy="364.3" r="3.45"/>
<circle cx="665.9" cy="367.7" r="3.45"/>
<circle cx="673.0" cy="367.9" r="3.45"/>
<circle cx="653.3" cy="373.3" r="3.45"/>
<circle cx="659.8" cy="373.1" r="3.45"/>
<circle cx="654.1" cy="379.7" r="3.45"/>
<circle cx="660.1" cy="381.4" r="3.45"/>
<circle cx="667.0" cy="382.4" r="3.45"/>
<circle cx="649.6" cy="385.6" r="3.45"/>
<circle cx="657.1" cy="387.4" r="3.45"/>
<circle cx="663.2" cy="386.8" r="3.45"/>
<circle cx="671.5" cy="390.8" r="3.45"/>
<circle cx="659.4" cy="391.2" r="3.45"/>
<circle cx="662.4" cy="393.6" r="3.45"/>
<circle cx="657.1" cy="394.9" r="3.45"/>
<circle cx="649.6" cy="394.7" r="3.45"/>
<circle cx="651.8" cy="396.0" r="3.45"/>
<circle cx="668.5" cy="399.3" r="3.45"/>
<circle cx="648.0" cy="408.2" r="3.45"/>
<circle cx="670.0" cy="409.4" r="3.45"/>
<circle cx="669.2" cy="414.9" r="3.45"/>
<circle cx="651.1" cy="381.9" r="3.45"/>
<circle cx="663.9" cy="383.8" r="3.45"/>
<circle cx="735.9" cy="362.4" r="3.45"/>
<circle cx="740.7" cy="368.4" r="3.45"/>
<circle cx="730.1" cy="365.7" r="3.45"/>
<circle cx="727.1" cy="365.6" r="3.45"/>
<circle cx="742.2" cy="372.8" r="3.45"/>
<circle cx="721.1" cy="367.1" r="3.45"/>
<circle cx="734.7" cy="371.3" r="3.45"/>
<circle cx="737.0" cy="375.5" r="3.45"/>
<circle cx="737.7" cy="380.1" r="3.45"/>
<circle cx="728.6" cy="380.3" r="3.45"/>
<circle cx="723.3" cy="379.7" r="3.45"/>
<circle cx="718.8" cy="385.4" r="3.45"/>
<circle cx="723.3" cy="388.0" r="3.45"/>
<circle cx="730.9" cy="391.0" r="3.45"/>
<circle cx="732.4" cy="394.6" r="3.45"/>
<circle cx="739.2" cy="395.0" r="3.45"/>
<circle cx="743.0" cy="393.5" r="3.45"/>
<circle cx="734.7" cy="387.2" r="3.45"/>
<circle cx="724.1" cy="400.4" r="3.45"/>
<circle cx="731.7" cy="404.1" r="3.45"/>
<circle cx="739.5" cy="411.3" r="3.45"/>
<circle cx="724.9" cy="406.7" r="3.45"/>
<circle cx="719.6" cy="406.1" r="3.45"/>
<circle cx="721.8" cy="404.0" r="3.45"/>
<circle cx="740.7" cy="387.3" r="3.45"/>
<circle cx="720.3" cy="381.5" r="3.45"/>
<circle cx="813.0" cy="349.4" r="3.45"/>
<circle cx="814.1" cy="347.7" r="3.45"/>
<circle cx="801.2" cy="358.5" r="3.45"/>
<circle cx="796.4" cy="367.7" r="3.45"/>
<circle cx="811.8" cy="367.1" r="3.45"/>
<circle cx="804.7" cy="373.7" r="3.45"/>
<circle cx="794.9" cy="377.9" r="3.45"/>
<circle cx="802.4" cy="377.2" r="3.45"/>
<circle cx="799.4" cy="381.5" r="3.45"/>
<circle cx="792.6" cy="385.1" r="3.45"/>
<circle cx="804.7" cy="382.0" r="3.45"/>
<circle cx="790.3" cy="390.8" r="3.45"/>
<circle cx="797.1" cy="391.0" r="3.45"/>
<circle cx="809.2" cy="390.2" r="3.45"/>
<circle cx="803.2" cy="393.7" r="3.45"/>
<circle cx="800.1" cy="396.5" r="3.45"/>
<circle cx="807.0" cy="394.5" r="3.45"/>
<circle cx="789.6" cy="401.6" r="3.45"/>
<circle cx="793.3" cy="400.1" r="3.45"/>
<circle cx="797.1" cy="400.1" r="3.45"/>
<circle cx="792.6" cy="404.0" r="3.45"/>
<circle cx="810.0" cy="400.7" r="3.45"/>
<circle cx="807.0" cy="404.3" r="3.45"/>
<circle cx="807.7" cy="409.4" r="3.45"/>
<circle cx="810.4" cy="411.9" r="3.45"/>
<circle cx="804.7" cy="398.7" r="3.45"/>
<circle cx="800.9" cy="387.3" r="3.45"/>
<circle cx="810.7" cy="384.7" r="3.45"/>
<circle cx="875.9" cy="355.5" r="3.45"/>
<circle cx="883.0" cy="360.9" r="3.45"/>
<circle cx="870.5" cy="364.9" r="3.45"/>
<circle cx="864.4" cy="369.0" r="3.45"/>
<circle cx="883.8" cy="367.5" r="3.45"/>
<circle cx="876.2" cy="369.1" r="3.45"/>
<circle cx="880.7" cy="372.1" r="3.45"/>
<circle cx="867.1" cy="373.9" r="3.45"/>
<circle cx="872.4" cy="374.8" r="3.45"/>
<circle cx="858.8" cy="380.2" r="3.45"/>
<circle cx="864.9" cy="379.5" r="3.45"/>
<circle cx="870.1" cy="378.8" r="3.45"/>
<circle cx="877.7" cy="381.9" r="3.45"/>
<circle cx="861.1" cy="390.0" r="3.45"/>
<circle cx="867.1" cy="389.8" r="3.45"/>
<circle cx="873.2" cy="389.8" r="3.45"/>
<circle cx="880.7" cy="390.7" r="3.45"/>
<circle cx="862.6" cy="395.8" r="3.45"/>
<circle cx="871.7" cy="394.5" r="3.45"/>
<circle cx="880.0" cy="395.3" r="3.45"/>
<circle cx="868.6" cy="399.4" r="3.45"/>
<circle cx="860.3" cy="401.5" r="3.45"/>
<circle cx="881.5" cy="398.3" r="3.45"/>
<circle cx="878.5" cy="400.7" r="3.45"/>
<circle cx="861.4" cy="404.6" r="3.45"/>
<circle cx="874.7" cy="376.8" r="3.45"/>
<circle cx="863.3" cy="385.1" r="3.45"/>
<circle cx="883.0" cy="383.8" r="3.45"/>
</g>
<g fill="#d96226">
<circle cx="259.1" cy="390.7" r="3.45"/>
<circle cx="261.9" cy="382.4" r="3.45"/>
<circle cx="265.2" cy="380.9" r="3.45"/>
<circle cx="267.9" cy="385.4" r="3.45"/>
<circle cx="270.9" cy="382.4" r="3.45"/>
<circle cx="273.2" cy="386.9" r="3.45"/>
<circle cx="276.2" cy="390.7" r="3.45"/>
<circle cx="277.7" cy="385.4" r="3.45"/>
<circle cx="280.8" cy="382.4" r="3.45"/>
<circle cx="283.8" cy="381.6" r="3.45"/>
<circle cx="286.8" cy="382.4" r="3.45"/>
<circle cx="289.1" cy="381.6" r="3.45"/>
<circle cx="290.3" cy="383.2" r="3.45"/>
<circle cx="269.4" cy="386.2" r="3.45"/>
<circle cx="263.4" cy="383.9" r="3.45"/>
<circle cx="279.2" cy="386.2" r="3.45"/>
<circle cx="404.9" cy="371.1" r="3.45"/>
<circle cx="407.1" cy="374.8" r="3.45"/>
<circle cx="402.6" cy="377.9" r="3.45"/>
<circle cx="400.3" cy="388.4" r="3.45"/>
<circle cx="403.3" cy="386.2" r="3.45"/>
<circle cx="408.6" cy="389.9" r="3.45"/>
<circle cx="412.4" cy="391.5" r="3.45"/>
<circle cx="414.7" cy="390.7" r="3.45"/>
<circle cx="417.7" cy="383.2" r="3.45"/>
<circle cx="420.7" cy="386.2" r="3.45"/>
<circle cx="423.8" cy="389.2" r="3.45"/>
<circle cx="426.8" cy="387.7" r="3.45"/>
<circle cx="429.1" cy="383.2" r="3.45"/>
<circle cx="431.0" cy="383.9" r="3.45"/>
<circle cx="410.1" cy="386.2" r="3.45"/>
<circle cx="424.5" cy="385.4" r="3.45"/>
<circle cx="543.3" cy="360.9" r="3.45"/>
<circle cx="541.1" cy="374.1" r="3.45"/>
<circle cx="545.6" cy="382.4" r="3.45"/>
<circle cx="547.9" cy="389.2" r="3.45"/>
<circle cx="550.9" cy="390.7" r="3.45"/>
<circle cx="553.9" cy="383.2" r="3.45"/>
<circle cx="556.2" cy="396.0" r="3.45"/>
<circle cx="558.5" cy="393.0" r="3.45"/>
<circle cx="561.5" cy="386.2" r="3.45"/>
<circle cx="564.5" cy="380.1" r="3.45"/>
<circle cx="567.5" cy="379.4" r="3.45"/>
<circle cx="568.3" cy="392.2" r="3.45"/>
<circle cx="571.3" cy="393.0" r="3.45"/>
<circle cx="550.1" cy="386.2" r="3.45"/>
<circle cx="563.0" cy="383.9" r="3.45"/>
<circle cx="559.2" cy="385.4" r="3.45"/>
<circle cx="681.8" cy="399.3" r="3.45"/>
<circle cx="684.1" cy="380.1" r="3.45"/>
<circle cx="687.1" cy="379.1" r="3.45"/>
<circle cx="690.1" cy="380.1" r="3.45"/>
<circle cx="693.2" cy="381.6" r="3.45"/>
<circle cx="695.4" cy="383.9" r="3.45"/>
<circle cx="697.7" cy="389.2" r="3.45"/>
<circle cx="700.0" cy="390.7" r="3.45"/>
<circle cx="702.2" cy="388.4" r="3.45"/>
<circle cx="704.5" cy="382.4" r="3.45"/>
<circle cx="707.5" cy="379.4" r="3.45"/>
<circle cx="709.8" cy="380.9" r="3.45"/>
<circle cx="712.1" cy="386.2" r="3.45"/>
<circle cx="685.6" cy="382.4" r="3.45"/>
<circle cx="706.0" cy="383.9" r="3.45"/>
<circle cx="699.2" cy="386.9" r="3.45"/>
<circle cx="823.3" cy="380.6" r="3.45"/>
<circle cx="826.4" cy="381.6" r="3.45"/>
<circle cx="829.4" cy="385.4" r="3.45"/>
<circle cx="832.4" cy="387.7" r="3.45"/>
<circle cx="835.4" cy="389.2" r="3.45"/>
<circle cx="837.7" cy="386.9" r="3.45"/>
<circle cx="840.7" cy="382.4" r="3.45"/>
<circle cx="843.8" cy="381.6" r="3.45"/>
<circle cx="846.8" cy="381.6" r="3.45"/>
<circle cx="849.0" cy="385.4" r="3.45"/>
<circle cx="851.3" cy="388.4" r="3.45"/>
<circle cx="853.1" cy="389.2" r="3.45"/>
<circle cx="824.9" cy="383.2" r="3.45"/>
<circle cx="834.7" cy="386.2" r="3.45"/>
<circle cx="845.3" cy="383.9" r="3.45"/>
<circle cx="830.9" cy="386.2" r="3.45"/>
</g>
<g stroke="#3a4fb0" stroke-width="4.3">
<line x1="223.7" y1="384.8" x2="252.6" y2="384.8"/>
<line x1="257.8" y1="384.8" x2="291.5" y2="384.8"/>
<line x1="294.2" y1="384.8" x2="323.2" y2="384.8"/>
<line x1="364.7" y1="384.8" x2="393.5" y2="384.8"/>
<line x1="398.4" y1="384.8" x2="433.4" y2="384.8"/>
<line x1="435.4" y1="384.8" x2="464.0" y2="384.8"/>
<line x1="505.3" y1="384.8" x2="534.6" y2="384.8"/>
<line x1="538.9" y1="384.8" x2="573.6" y2="384.8"/>
<line x1="576.0" y1="384.8" x2="604.8" y2="384.8"/>
<line x1="645.9" y1="384.8" x2="675.3" y2="384.8"/>
<line x1="679.8" y1="384.8" x2="714.5" y2="384.8"/>
<line x1="716.3" y1="384.8" x2="745.5" y2="384.8"/>
<line x1="786.9" y1="384.8" x2="815.9" y2="384.8"/>
<line x1="820.3" y1="384.8" x2="854.6" y2="384.8"/>
<line x1="857.3" y1="384.8" x2="886.4" y2="384.8"/>
</g></g>
<g clip-path="url(#cb)">
<g fill="#1b9e77">
<circle cx="305.8" cy="481.2" r="3.45"/>
<circle cx="302.8" cy="485.4" r="3.45"/>
<circle cx="297.1" cy="536.4" r="3.45"/>
<circle cx="321.3" cy="531.4" r="3.45"/>
<circle cx="296.3" cy="521.2" r="3.45"/>
<circle cx="305.1" cy="499.6" r="3.45"/>
<circle cx="319.5" cy="500.8" r="3.45"/>
<circle cx="311.4" cy="501.6" r="3.45"/>
<circle cx="298.9" cy="504.6" r="3.45"/>
<circle cx="315.2" cy="505.4" r="3.45"/>
<circle cx="298.6" cy="508.1" r="3.45"/>
<circle cx="308.4" cy="508.4" r="3.45"/>
<circle cx="300.9" cy="515.9" r="3.45"/>
<circle cx="304.6" cy="519.7" r="3.45"/>
<circle cx="310.7" cy="520.5" r="3.45"/>
<circle cx="320.2" cy="519.0" r="3.45"/>
<circle cx="317.5" cy="515.9" r="3.45"/>
<circle cx="308.9" cy="527.3" r="3.45"/>
<circle cx="312.2" cy="529.6" r="3.45"/>
<circle cx="316.0" cy="526.5" r="3.45"/>
<circle cx="313.7" cy="512.2" r="3.45"/>
<circle cx="303.1" cy="512.2" r="3.45"/>
<circle cx="297.1" cy="511.4" r="3.45"/>
<circle cx="318.2" cy="511.4" r="3.45"/>
<circle cx="307.7" cy="515.9" r="3.45"/>
<circle cx="312.9" cy="523.5" r="3.45"/>
<circle cx="299.3" cy="517.5" r="3.45"/>
<circle cx="316.7" cy="508.4" r="3.45"/>
<circle cx="380.9" cy="476.6" r="3.45"/>
<circle cx="389.5" cy="488.4" r="3.45"/>
<circle cx="372.1" cy="491.0" r="3.45"/>
<circle cx="375.9" cy="491.8" r="3.45"/>
<circle cx="379.7" cy="494.0" r="3.45"/>
<circle cx="369.1" cy="497.0" r="3.45"/>
<circle cx="375.1" cy="497.8" r="3.45"/>
<circle cx="368.3" cy="500.8" r="3.45"/>
<circle cx="374.4" cy="501.6" r="3.45"/>
<circle cx="370.6" cy="504.6" r="3.45"/>
<circle cx="382.7" cy="504.6" r="3.45"/>
<circle cx="388.0" cy="505.4" r="3.45"/>
<circle cx="376.6" cy="507.6" r="3.45"/>
<circle cx="385.7" cy="508.4" r="3.45"/>
<circle cx="373.6" cy="509.9" r="3.45"/>
<circle cx="370.9" cy="518.7" r="3.45"/>
<circle cx="378.9" cy="517.5" r="3.45"/>
<circle cx="376.6" cy="514.4" r="3.45"/>
<circle cx="388.0" cy="515.2" r="3.45"/>
<circle cx="391.0" cy="518.2" r="3.45"/>
<circle cx="391.8" cy="521.2" r="3.45"/>
<circle cx="386.5" cy="523.5" r="3.45"/>
<circle cx="373.6" cy="528.8" r="3.45"/>
<circle cx="367.6" cy="530.3" r="3.45"/>
<circle cx="366.5" cy="538.9" r="3.45"/>
<circle cx="383.4" cy="538.9" r="3.45"/>
<circle cx="382.7" cy="549.7" r="3.45"/>
<circle cx="390.2" cy="512.2" r="3.45"/>
<circle cx="369.1" cy="508.4" r="3.45"/>
<circle cx="381.2" cy="511.4" r="3.45"/>
<circle cx="457.4" cy="475.6" r="3.45"/>
<circle cx="458.5" cy="488.0" r="3.45"/>
<circle cx="461.9" cy="492.5" r="3.45"/>
<circle cx="442.6" cy="495.5" r="3.45"/>
<circle cx="447.9" cy="496.3" r="3.45"/>
<circle cx="451.7" cy="497.8" r="3.45"/>
<circle cx="456.2" cy="500.8" r="3.45"/>
<circle cx="441.1" cy="500.8" r="3.45"/>
<circle cx="446.4" cy="504.6" r="3.45"/>
<circle cx="438.8" cy="505.4" r="3.45"/>
<circle cx="437.3" cy="508.4" r="3.45"/>
<circle cx="442.6" cy="508.4" r="3.45"/>
<circle cx="450.1" cy="509.9" r="3.45"/>
<circle cx="441.1" cy="514.4" r="3.45"/>
<circle cx="447.1" cy="515.2" r="3.45"/>
<circle cx="452.4" cy="515.9" r="3.45"/>
<circle cx="444.9" cy="519.7" r="3.45"/>
<circle cx="454.7" cy="520.5" r="3.45"/>
<circle cx="438.8" cy="525.3" r="3.45"/>
<circle cx="449.4" cy="525.0" r="3.45"/>
<circle cx="456.9" cy="524.3" r="3.45"/>
<circle cx="460.7" cy="525.3" r="3.45"/>
<circle cx="453.9" cy="531.1" r="3.45"/>
<circle cx="444.4" cy="534.1" r="3.45"/>
<circle cx="460.0" cy="537.9" r="3.45"/>
<circle cx="453.2" cy="512.2" r="3.45"/>
<circle cx="459.2" cy="511.4" r="3.45"/>
<circle cx="448.6" cy="519.7" r="3.45"/>
<circle cx="513.6" cy="471.6" r="3.45"/>
<circle cx="512.9" cy="482.2" r="3.45"/>
<circle cx="526.9" cy="492.5" r="3.45"/>
<circle cx="510.6" cy="496.3" r="3.45"/>
<circle cx="515.9" cy="496.3" r="3.45"/>
<circle cx="515.1" cy="501.6" r="3.45"/>
<circle cx="518.9" cy="500.8" r="3.45"/>
<circle cx="528.0" cy="500.8" r="3.45"/>
<circle cx="531.8" cy="503.1" r="3.45"/>
<circle cx="517.4" cy="505.4" r="3.45"/>
<circle cx="524.2" cy="505.4" r="3.45"/>
<circle cx="529.5" cy="506.1" r="3.45"/>
<circle cx="521.2" cy="508.4" r="3.45"/>
<circle cx="509.1" cy="512.2" r="3.45"/>
<circle cx="516.6" cy="512.9" r="3.45"/>
<circle cx="521.9" cy="515.2" r="3.45"/>
<circle cx="525.7" cy="517.5" r="3.45"/>
<circle cx="532.5" cy="517.5" r="3.45"/>
<circle cx="519.7" cy="519.7" r="3.45"/>
<circle cx="511.3" cy="522.0" r="3.45"/>
<circle cx="508.3" cy="525.0" r="3.45"/>
<circle cx="522.7" cy="524.3" r="3.45"/>
<circle cx="512.1" cy="528.8" r="3.45"/>
<circle cx="507.6" cy="531.8" r="3.45"/>
<circle cx="529.0" cy="529.6" r="3.45"/>
<circle cx="526.5" cy="511.4" r="3.45"/>
<circle cx="513.6" cy="509.9" r="3.45"/>
<circle cx="524.2" cy="520.5" r="3.45"/>
<circle cx="594.7" cy="478.4" r="3.45"/>
<circle cx="590.9" cy="488.7" r="3.45"/>
<circle cx="584.9" cy="492.5" r="3.45"/>
<circle cx="593.9" cy="495.5" r="3.45"/>
<circle cx="590.1" cy="497.1" r="3.45"/>
<circle cx="580.3" cy="497.8" r="3.45"/>
<circle cx="581.8" cy="501.6" r="3.45"/>
<circle cx="584.1" cy="504.6" r="3.45"/>
<circle cx="579.6" cy="506.9" r="3.45"/>
<circle cx="587.1" cy="507.6" r="3.45"/>
<circle cx="597.0" cy="507.6" r="3.45"/>
<circle cx="601.5" cy="509.9" r="3.45"/>
<circle cx="594.7" cy="512.2" r="3.45"/>
<circle cx="600.7" cy="514.4" r="3.45"/>
<circle cx="582.6" cy="515.9" r="3.45"/>
<circle cx="592.4" cy="519.3" r="3.45"/>
<circle cx="596.2" cy="527.3" r="3.45"/>
<circle cx="599.2" cy="528.8" r="3.45"/>
<circle cx="587.1" cy="530.3" r="3.45"/>
<circle cx="578.0" cy="532.3" r="3.45"/>
<circle cx="578.4" cy="535.3" r="3.45"/>
<circle cx="590.1" cy="509.9" r="3.45"/>
<circle cx="582.6" cy="510.7" r="3.45"/>
<circle cx="598.5" cy="512.2" r="3.45"/>
<circle cx="666.5" cy="481.2" r="3.45"/>
<circle cx="663.6" cy="487.5" r="3.45"/>
<circle cx="655.3" cy="491.5" r="3.45"/>
<circle cx="665.9" cy="494.5" r="3.45"/>
<circle cx="673.0" cy="494.5" r="3.45"/>
<circle cx="653.3" cy="500.5" r="3.45"/>
<circle cx="659.8" cy="500.1" r="3.45"/>
<circle cx="654.1" cy="506.9" r="3.45"/>
<circle cx="660.1" cy="508.4" r="3.45"/>
<circle cx="667.0" cy="509.1" r="3.45"/>
<circle cx="649.6" cy="512.9" r="3.45"/>
<circle cx="657.1" cy="514.4" r="3.45"/>
<circle cx="663.2" cy="513.7" r="3.45"/>
<circle cx="671.5" cy="517.5" r="3.45"/>
<circle cx="659.4" cy="518.2" r="3.45"/>
<circle cx="662.4" cy="520.5" r="3.45"/>
<circle cx="657.1" cy="522.0" r="3.45"/>
<circle cx="649.6" cy="522.0" r="3.45"/>
<circle cx="651.8" cy="523.2" r="3.45"/>
<circle cx="668.5" cy="526.1" r="3.45"/>
<circle cx="648.0" cy="535.6" r="3.45"/>
<circle cx="670.0" cy="536.1" r="3.45"/>
<circle cx="669.2" cy="541.7" r="3.45"/>
<circle cx="651.1" cy="509.1" r="3.45"/>
<circle cx="663.9" cy="510.7" r="3.45"/>
<circle cx="735.9" cy="486.9" r="3.45"/>
<circle cx="740.7" cy="491.0" r="3.45"/>
<circle cx="730.1" cy="492.5" r="3.45"/>
<circle cx="727.1" cy="493.6" r="3.45"/>
<circle cx="742.2" cy="494.8" r="3.45"/>
<circle cx="721.1" cy="497.5" r="3.45"/>
<circle cx="734.7" cy="496.3" r="3.45"/>
<circle cx="737.0" cy="499.6" r="3.45"/>
<circle cx="737.7" cy="503.9" r="3.45"/>
<circle cx="728.6" cy="507.6" r="3.45"/>
<circle cx="723.3" cy="509.1" r="3.45"/>
<circle cx="718.8" cy="516.7" r="3.45"/>
<circle cx="723.3" cy="517.5" r="3.45"/>
<circle cx="730.9" cy="517.5" r="3.45"/>
<circle cx="732.4" cy="520.5" r="3.45"/>
<circle cx="739.2" cy="518.2" r="3.45"/>
<circle cx="743.0" cy="515.2" r="3.45"/>
<circle cx="734.7" cy="512.2" r="3.45"/>
<circle cx="724.1" cy="529.6" r="3.45"/>
<circle cx="731.7" cy="530.3" r="3.45"/>
<circle cx="739.5" cy="534.4" r="3.45"/>
<circle cx="724.9" cy="535.6" r="3.45"/>
<circle cx="719.6" cy="537.1" r="3.45"/>
<circle cx="721.8" cy="534.1" r="3.45"/>
<circle cx="740.7" cy="509.9" r="3.45"/>
<circle cx="720.3" cy="512.2" r="3.45"/>
<circle cx="813.0" cy="475.9" r="3.45"/>
<circle cx="814.1" cy="474.4" r="3.45"/>
<circle cx="801.2" cy="482.7" r="3.45"/>
<circle cx="796.4" cy="491.0" r="3.45"/>
<circle cx="811.8" cy="493.3" r="3.45"/>
<circle cx="804.7" cy="498.6" r="3.45"/>
<circle cx="794.9" cy="500.8" r="3.45"/>
<circle cx="802.4" cy="501.6" r="3.45"/>
<circle cx="799.4" cy="505.4" r="3.45"/>
<circle cx="792.6" cy="507.6" r="3.45"/>
<circle cx="804.7" cy="506.9" r="3.45"/>
<circle cx="790.3" cy="512.9" r="3.45"/>
<circle cx="797.1" cy="514.4" r="3.45"/>
<circle cx="809.2" cy="515.9" r="3.45"/>
<circle cx="803.2" cy="518.2" r="3.45"/>
<circle cx="800.1" cy="520.5" r="3.45"/>
<circle cx="807.0" cy="519.7" r="3.45"/>
<circle cx="789.6" cy="523.5" r="3.45"/>
<circle cx="793.3" cy="522.8" r="3.45"/>
<circle cx="797.1" cy="523.5" r="3.45"/>
<circle cx="792.6" cy="526.5" r="3.45"/>
<circle cx="810.0" cy="526.5" r="3.45"/>
<circle cx="807.0" cy="529.6" r="3.45"/>
<circle cx="807.7" cy="534.9" r="3.45"/>
<circle cx="810.4" cy="537.9" r="3.45"/>
<circle cx="804.7" cy="523.5" r="3.45"/>
<circle cx="800.9" cy="511.4" r="3.45"/>
<circle cx="810.7" cy="510.7" r="3.45"/>
<circle cx="875.9" cy="482.7" r="3.45"/>
<circle cx="883.0" cy="488.4" r="3.45"/>
<circle cx="870.5" cy="491.5" r="3.45"/>
<circle cx="864.4" cy="494.8" r="3.45"/>
<circle cx="883.8" cy="495.1" r="3.45"/>
<circle cx="876.2" cy="496.3" r="3.45"/>
<circle cx="880.7" cy="499.6" r="3.45"/>
<circle cx="867.1" cy="500.1" r="3.45"/>
<circle cx="872.4" cy="501.6" r="3.45"/>
<circle cx="858.8" cy="504.9" r="3.45"/>
<circle cx="864.9" cy="505.4" r="3.45"/>
<circle cx="870.1" cy="505.4" r="3.45"/>
<circle cx="877.7" cy="509.1" r="3.45"/>
<circle cx="861.1" cy="515.2" r="3.45"/>
<circle cx="867.1" cy="515.9" r="3.45"/>
<circle cx="873.2" cy="516.7" r="3.45"/>
<circle cx="880.7" cy="518.2" r="3.45"/>
<circle cx="862.6" cy="521.2" r="3.45"/>
<circle cx="871.7" cy="521.2" r="3.45"/>
<circle cx="880.0" cy="522.8" r="3.45"/>
<circle cx="868.6" cy="525.8" r="3.45"/>
<circle cx="860.3" cy="526.5" r="3.45"/>
<circle cx="881.5" cy="525.8" r="3.45"/>
<circle cx="878.5" cy="528.0" r="3.45"/>
<circle cx="861.4" cy="529.9" r="3.45"/>
<circle cx="874.7" cy="503.9" r="3.45"/>
<circle cx="863.3" cy="510.7" r="3.45"/>
<circle cx="883.0" cy="511.4" r="3.45"/>
<circle cx="950.1" cy="486.8" r="3.45"/>
<circle cx="937.6" cy="488.7" r="3.45"/>
<circle cx="938.6" cy="493.3" r="3.45"/>
<circle cx="946.6" cy="495.1" r="3.45"/>
<circle cx="951.2" cy="497.0" r="3.45"/>
<circle cx="940.6" cy="498.6" r="3.45"/>
<circle cx="935.3" cy="501.6" r="3.45"/>
<circle cx="930.8" cy="504.2" r="3.45"/>
<circle cx="947.1" cy="505.4" r="3.45"/>
<circle cx="944.4" cy="508.4" r="3.45"/>
<circle cx="931.5" cy="515.2" r="3.45"/>
<circle cx="936.8" cy="515.9" r="3.45"/>
<circle cx="942.9" cy="515.9" r="3.45"/>
<circle cx="948.9" cy="515.9" r="3.45"/>
<circle cx="954.2" cy="517.5" r="3.45"/>
<circle cx="929.2" cy="522.0" r="3.45"/>
<circle cx="934.5" cy="519.7" r="3.45"/>
<circle cx="939.8" cy="519.7" r="3.45"/>
<circle cx="945.9" cy="520.5" r="3.45"/>
<circle cx="951.2" cy="522.0" r="3.45"/>
<circle cx="942.1" cy="523.5" r="3.45"/>
<circle cx="954.2" cy="525.0" r="3.45"/>
<circle cx="932.3" cy="530.6" r="3.45"/>
<circle cx="935.3" cy="511.4" r="3.45"/>
<circle cx="950.4" cy="512.2" r="3.45"/>
<circle cx="955.0" cy="520.5" r="3.45"/>
</g>
<g fill="#d96226">
<circle cx="329.6" cy="515.2" r="3.45"/>
<circle cx="332.6" cy="514.4" r="3.45"/>
<circle cx="336.4" cy="508.4" r="3.45"/>
<circle cx="340.5" cy="504.6" r="3.45"/>
<circle cx="340.9" cy="507.6" r="3.45"/>
<circle cx="344.7" cy="514.4" r="3.45"/>
<circle cx="347.7" cy="515.2" r="3.45"/>
<circle cx="350.8" cy="512.2" r="3.45"/>
<circle cx="354.5" cy="507.6" r="3.45"/>
<circle cx="356.8" cy="508.4" r="3.45"/>
<circle cx="359.1" cy="512.2" r="3.45"/>
<circle cx="360.6" cy="512.9" r="3.45"/>
<circle cx="333.4" cy="511.4" r="3.45"/>
<circle cx="353.0" cy="509.9" r="3.45"/>
<circle cx="342.4" cy="511.4" r="3.45"/>
<circle cx="349.2" cy="513.7" r="3.45"/>
<circle cx="470.6" cy="512.2" r="3.45"/>
<circle cx="474.3" cy="506.9" r="3.45"/>
<circle cx="477.4" cy="509.1" r="3.45"/>
<circle cx="480.4" cy="515.2" r="3.45"/>
<circle cx="483.4" cy="516.7" r="3.45"/>
<circle cx="485.7" cy="507.6" r="3.45"/>
<circle cx="488.7" cy="508.4" r="3.45"/>
<circle cx="491.7" cy="511.4" r="3.45"/>
<circle cx="494.8" cy="513.7" r="3.45"/>
<circle cx="497.8" cy="512.2" r="3.45"/>
<circle cx="500.8" cy="506.9" r="3.45"/>
<circle cx="501.6" cy="510.7" r="3.45"/>
<circle cx="481.9" cy="511.4" r="3.45"/>
<circle cx="472.8" cy="509.9" r="3.45"/>
<circle cx="496.3" cy="509.9" r="3.45"/>
<circle cx="491.0" cy="509.1" r="3.45"/>
<circle cx="617.4" cy="490.7" r="3.45"/>
<circle cx="615.5" cy="499.0" r="3.45"/>
<circle cx="611.0" cy="519.7" r="3.45"/>
<circle cx="613.6" cy="523.8" r="3.45"/>
<circle cx="617.4" cy="519.0" r="3.45"/>
<circle cx="620.4" cy="516.7" r="3.45"/>
<circle cx="623.4" cy="509.9" r="3.45"/>
<circle cx="626.4" cy="509.1" r="3.45"/>
<circle cx="625.7" cy="512.9" r="3.45"/>
<circle cx="629.5" cy="513.7" r="3.45"/>
<circle cx="632.5" cy="515.2" r="3.45"/>
<circle cx="635.5" cy="514.4" r="3.45"/>
<circle cx="638.5" cy="505.4" r="3.45"/>
<circle cx="641.6" cy="501.1" r="3.45"/>
<circle cx="640.0" cy="503.9" r="3.45"/>
<circle cx="637.0" cy="511.4" r="3.45"/>
<circle cx="618.9" cy="514.4" r="3.45"/>
<circle cx="754.0" cy="498.6" r="3.45"/>
<circle cx="751.6" cy="503.6" r="3.45"/>
<circle cx="755.9" cy="514.4" r="3.45"/>
<circle cx="758.9" cy="517.5" r="3.45"/>
<circle cx="761.1" cy="518.2" r="3.45"/>
<circle cx="763.4" cy="510.7" r="3.45"/>
<circle cx="766.4" cy="509.1" r="3.45"/>
<circle cx="769.5" cy="509.1" r="3.45"/>
<circle cx="772.5" cy="512.2" r="3.45"/>
<circle cx="775.5" cy="512.9" r="3.45"/>
<circle cx="778.5" cy="511.4" r="3.45"/>
<circle cx="780.8" cy="509.9" r="3.45"/>
<circle cx="783.1" cy="509.9" r="3.45"/>
<circle cx="757.4" cy="512.2" r="3.45"/>
<circle cx="752.8" cy="508.4" r="3.45"/>
<circle cx="764.9" cy="512.9" r="3.45"/>
<circle cx="895.1" cy="505.4" r="3.45"/>
<circle cx="898.1" cy="506.9" r="3.45"/>
<circle cx="892.8" cy="512.9" r="3.45"/>
<circle cx="900.4" cy="512.9" r="3.45"/>
<circle cx="902.7" cy="515.9" r="3.45"/>
<circle cx="905.7" cy="517.5" r="3.45"/>
<circle cx="908.7" cy="515.9" r="3.45"/>
<circle cx="911.7" cy="512.2" r="3.45"/>
<circle cx="914.8" cy="513.7" r="3.45"/>
<circle cx="917.8" cy="506.1" r="3.45"/>
<circle cx="920.8" cy="505.4" r="3.45"/>
<circle cx="923.1" cy="508.4" r="3.45"/>
<circle cx="919.3" cy="509.1" r="3.45"/>
<circle cx="904.2" cy="512.2" r="3.45"/>
<circle cx="895.9" cy="509.9" r="3.45"/>
<circle cx="914.0" cy="509.9" r="3.45"/>
</g>
<g stroke="#000" stroke-width="4.3">
<line x1="294.2" y1="510.9" x2="323.2" y2="510.9"/>
<line x1="328.2" y1="510.9" x2="362.3" y2="510.9"/>
<line x1="364.7" y1="510.9" x2="393.5" y2="510.9"/>
<line x1="435.4" y1="510.9" x2="464.0" y2="510.9"/>
<line x1="469.0" y1="510.9" x2="503.0" y2="510.9"/>
<line x1="505.3" y1="510.9" x2="534.6" y2="510.9"/>
<line x1="576.0" y1="510.9" x2="604.8" y2="510.9"/>
<line x1="609.5" y1="510.9" x2="643.3" y2="510.9"/>
<line x1="645.9" y1="510.9" x2="675.3" y2="510.9"/>
<line x1="716.3" y1="510.9" x2="745.5" y2="510.9"/>
<line x1="750.0" y1="510.9" x2="785.0" y2="510.9"/>
<line x1="786.9" y1="510.9" x2="815.9" y2="510.9"/>
<line x1="857.3" y1="510.9" x2="886.4" y2="510.9"/>
<line x1="890.8" y1="510.9" x2="925.5" y2="510.9"/>
<line x1="927.7" y1="510.9" x2="956.5" y2="510.9"/>
</g></g>
<g fill="none" stroke="#000" stroke-width="2">
<rect x="223.8" y="3.0" width="735.8" height="315.0"/>
<rect x="223.8" y="325.0" width="735.8" height="119.30000000000001"/>
<rect x="223.8" y="451.6" width="735.8" height="118.75"/>
</g>
<g stroke="#000" stroke-width="1.7">
<line x1="215.3" y1="101.0" x2="222.8" y2="101.0"/>
<line x1="215.3" y1="209.7" x2="222.8" y2="209.7"/>
<line x1="215.3" y1="342.1" x2="222.8" y2="342.1"/>
<line x1="215.3" y1="384.8" x2="222.8" y2="384.8"/>
<line x1="215.3" y1="427.5" x2="222.8" y2="427.5"/>
<line x1="215.3" y1="468.3" x2="222.8" y2="468.3"/>
<line x1="215.3" y1="510.9" x2="222.8" y2="510.9"/>
<line x1="215.3" y1="553.5" x2="222.8" y2="553.5"/>
<line x1="223.80" y1="571.35" x2="223.80" y2="578.85"/>
<line x1="370.96" y1="571.35" x2="370.96" y2="578.85"/>
<line x1="518.12" y1="571.35" x2="518.12" y2="578.85"/>
<line x1="665.28" y1="571.35" x2="665.28" y2="578.85"/>
<line x1="812.44" y1="571.35" x2="812.44" y2="578.85"/>
<line x1="959.60" y1="571.35" x2="959.60" y2="578.85"/>
</g>
<rect x="781.5" y="18" width="165.5" height="127.2" rx="6" ry="6" fill="#fff" stroke="#cccccc" stroke-width="2.4"/>
<circle cx="835.6" cy="47.5" r="3.5" fill="#1b9e77"/><circle cx="835.6" cy="105.7" r="3.5" fill="#d96226"/>
<g stroke="#000" stroke-width="0.4">
<text class="i" x="877" y="54.2" font-size="39.5" textLength="33" lengthAdjust="spacingAndGlyphs">Bl</text>
<text class="i" x="909.2" y="61.0" font-size="29.5" textLength="21.6" lengthAdjust="spacingAndGlyphs">V</text>
<text class="i" x="877" y="112.1" font-size="39.5" textLength="33" lengthAdjust="spacingAndGlyphs">Bl</text>
<text class="i" x="912.3" y="119.0" font-size="29.5" textLength="17" lengthAdjust="spacingAndGlyphs">F</text>
</g>
<g stroke="#000" stroke-width="0.4" stroke-linejoin="round">
<text x="61.0" y="114.8" font-size="40.3" textLength="145.3" lengthAdjust="spacingAndGlyphs">709.4302</text>
<text x="61.0" y="223.5" font-size="40.3" textLength="145.3" lengthAdjust="spacingAndGlyphs">709.4300</text>
<text x="148.8" y="355.9" font-size="40.3" textLength="57.5" lengthAdjust="spacingAndGlyphs">100</text>
<text x="186.3" y="398.5" font-size="40.3" textLength="20" lengthAdjust="spacingAndGlyphs">0</text>
<text x="148.8" y="441.1" font-size="40.3" textLength="57.5" lengthAdjust="spacingAndGlyphs">100</text>
<text x="118.5" y="443.8" font-size="40.3" textLength="28.5" lengthAdjust="spacingAndGlyphs" stroke="#fff" stroke-width="0.3">−</text>
<text x="148.8" y="481.9" font-size="40.3" textLength="57.5" lengthAdjust="spacingAndGlyphs">100</text>
<text x="186.3" y="524.6" font-size="40.3" textLength="20" lengthAdjust="spacingAndGlyphs">0</text>
<text x="148.8" y="567.2" font-size="40.3" textLength="57.5" lengthAdjust="spacingAndGlyphs">100</text>
<text x="118.5" y="570.0" font-size="40.3" textLength="28.5" lengthAdjust="spacingAndGlyphs" stroke="#fff" stroke-width="0.3">−</text>
<text x="214.1" y="615.2" font-size="40.3" textLength="20" lengthAdjust="spacingAndGlyphs">0</text>
<text x="360.4" y="615.2" font-size="40.3" textLength="20" lengthAdjust="spacingAndGlyphs">5</text>
<text x="498.6" y="615.2" font-size="40.3" textLength="39" lengthAdjust="spacingAndGlyphs">10</text>
<text x="644.9" y="615.2" font-size="40.3" textLength="39" lengthAdjust="spacingAndGlyphs">15</text>
<text x="792.0" y="615.2" font-size="40.3" textLength="39" lengthAdjust="spacingAndGlyphs">20</text>
<text x="939.4" y="615.2" font-size="40.3" textLength="39" lengthAdjust="spacingAndGlyphs">25</text>
<text x="524.8" y="663.4" font-size="40.5" textLength="133.8" lengthAdjust="spacingAndGlyphs">time (h)</text>
<text x="269.8" y="274.0" font-size="40.3" textLength="21" lengthAdjust="spacingAndGlyphs">2</text>
<text x="300.4" y="280.0" font-size="50" stroke="#fff" stroke-width="0.9">×</text>
<text x="339" y="274.0" font-size="40.3" textLength="39" lengthAdjust="spacingAndGlyphs">10</text>
<text x="377.2" y="261.8" font-size="29.5" textLength="21.4" lengthAdjust="spacingAndGlyphs" stroke="none" stroke-width="0.3">−</text>
<text x="399.5" y="259.0" font-size="29.5" textLength="16.5" lengthAdjust="spacingAndGlyphs">7</text>
<g transform="translate(30.9 207.6) rotate(-90)"><text x="0" y="0" font-size="38" textLength="75.5" lengthAdjust="spacingAndGlyphs"><tspan font-size="46" dy="4.2">{</tspan><tspan dy="-4.2">Bl</tspan><tspan font-size="46" dy="4.2">}</tspan></text></g>
<g transform="translate(35.2 553.3) rotate(-90)">
<text x="-0.5" y="0" font-size="40.3" textLength="36.5" lengthAdjust="spacingAndGlyphs">fit</text>
<text x="36.4" y="2.0" font-size="30" textLength="21.4" lengthAdjust="spacingAndGlyphs" stroke="none" stroke-width="0.3">−</text>
<text x="59.8" y="0" textLength="60.2" lengthAdjust="spacingAndGlyphs"><tspan font-size="36.5" dy="3">{</tspan><tspan class="i" font-size="31" dy="-3">Bl</tspan><tspan font-size="36.5" dy="3">}</tspan></text>
<rect x="-0.3" y="8.6" width="121.6" height="2.1" fill="#000" stroke="none"/>
<text x="29.3" y="35.0" textLength="62.5" lengthAdjust="spacingAndGlyphs"><tspan font-size="36.5" dy="3">{</tspan><tspan class="i" font-size="31" dy="-3">Bl</tspan><tspan font-size="36.5" dy="3">}</tspan></text>
<text x="133.2" y="25.6" font-size="50" stroke="#fff" stroke-width="0.9">×</text>
<text x="172.5" y="20.5" font-size="40.3" textLength="37.5" lengthAdjust="spacingAndGlyphs">10</text>
<text x="207.3" y="4.3" font-size="29.5" textLength="16.5" lengthAdjust="spacingAndGlyphs">9</text>
</g>
</g>
</svg></body></html>
